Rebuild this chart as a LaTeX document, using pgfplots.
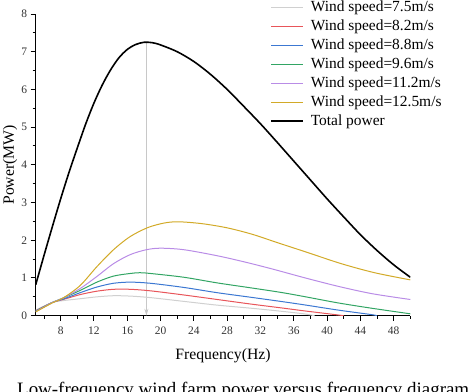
\documentclass[border=0pt]{standalone}
\usepackage{pgfplots}
\pgfplotsset{compat=1.18}
\usepackage{fontspec}
\setmainfont{Liberation Serif}
\usetikzlibrary{arrows.meta}
\definecolor{cgray}{RGB}{208,208,208}
\definecolor{cred}{RGB}{232,85,90}
\definecolor{cblue}{RGB}{60,120,210}
\definecolor{cgreen}{RGB}{50,165,100}
\definecolor{cpurple}{RGB}{185,140,230}
\definecolor{cyellow}{RGB}{210,170,40}
\definecolor{carrow}{RGB}{200,200,200}
\begin{document}
\begin{tikzpicture}
\useasboundingbox (-35.7bp,-76.3bp) rectangle (438.3bp,315.7bp);
\clip (-35.7bp,-76.3bp) rectangle (438.3bp,315.7bp);
\begin{axis}[
  at={(0,0)}, anchor=south west,
  scale only axis, width=374.6bp, height=301.7bp,
  xmin=5, xmax=50, ymin=0, ymax=8,
  axis x line*=bottom, axis y line*=left,
  axis line style={line width=1.3bp},
  tick align=outside,
  major tick length=5bp, minor tick length=3bp,
  every tick/.style={line width=1bp, black},
  xtick={8,12,...,48}, minor xtick={6,10,...,50},
  ytick={0,1,...,8}, minor ytick={0.5,1.5,...,7.5},
  /pgf/number format/assume math mode=true,
  tick label style={font=\fontsize{11.5}{13}\selectfont, color=black!80},
  xticklabel style={yshift=-3bp},
  xlabel={Frequency(Hz)}, ylabel={Power(MW)},
  label style={font=\fontsize{15.8}{18}\selectfont},
  xlabel style={at={(axis description cs:0.5,-0.133)}, anchor=center},
  ylabel style={at={(axis description cs:-0.0686,0.5)}, anchor=center},
  legend cell align=left,
  legend style={at={(axis description cs:0.6255,1.0547)}, anchor=north west,
    draw=none, fill=none, inner sep=0pt, column sep=7bp, row sep=0pt,
    font=\fontsize{15.5}{18}\selectfont,
    nodes={inner sep=0pt, text height=13.5bp, text depth=5.5bp}},
  legend image code/.code={\draw[#1] (0bp,0bp) -- (32bp,0bp);},
  every axis plot/.append style={line width=1bp},
]
\addplot[forget plot, carrow, line width=1bp, -{Stealth[length=7bp,width=4bp]}] coordinates {(18.3,7.22) (18.3,0)};
\addplot[cgray, smooth] coordinates {(5,0.15) (7,0.35) (8.3,0.40) (10.34,0.45) (12.35,0.50) (14.35,0.53) (16.36,0.52) (18.77,0.48) (22.78,0.38) (26.8,0.28) (30.8,0.2) (34.4,0.12) (37.2,0.05) (38.5,0)};
\addlegendentry{Wind speed=7.5m/s}
\addplot[cred, smooth] coordinates {(5,0.13) (7,0.35) (8.3,0.43) (10.34,0.56) (12.35,0.65) (14.35,0.70) (16.36,0.70) (18.77,0.66) (22.78,0.55) (26.8,0.43) (30.8,0.31) (34.4,0.21) (37.2,0.13) (41.3,0.02) (42,0)};
\addlegendentry{Wind speed=8.2m/s}
\addplot[cblue, smooth] coordinates {(5,0.12) (7,0.35) (8.3,0.44) (10.34,0.61) (12.35,0.76) (14.35,0.86) (16.36,0.89) (18.77,0.86) (22.78,0.75) (26.8,0.61) (30.8,0.49) (34.4,0.38) (37.2,0.29) (41.3,0.15) (45.3,0.03) (46,0)};
\addlegendentry{Wind speed=8.8m/s}
\addplot[cgreen, smooth] coordinates {(5,0.12) (7,0.35) (8.3,0.47) (10.34,0.67) (12.35,0.89) (14.35,1.05) (16.36,1.12) (17.5,1.14) (18.77,1.12) (22.78,1.02) (26.8,0.87) (30.8,0.74) (34.4,0.62) (37.2,0.51) (41.3,0.34) (45.3,0.2) (50,0.05)};
\addlegendentry{Wind speed=9.6m/s}
\addplot[cpurple, smooth] coordinates {(5,0.11) (7,0.35) (8.3,0.47) (10.34,0.72) (12.35,1.04) (14.35,1.38) (16.36,1.62) (18.3,1.75) (20,1.79) (22.8,1.75) (26.8,1.59) (30,1.43) (33.4,1.24) (37.4,1.0) (41.5,0.77) (45.5,0.58) (50,0.43)};
\addlegendentry{Wind speed=11.2m/s}
\addplot[cyellow, smooth] coordinates {(5,0.10) (7,0.34) (8.3,0.47) (10.34,0.8) (12.35,1.3) (14.35,1.75) (16.36,2.1) (18.5,2.34) (20.5,2.46) (22.2,2.49) (25,2.44) (28,2.33) (31,2.16) (34,1.94) (37.6,1.68) (41.7,1.38) (45.7,1.14) (50,0.95)};
\addlegendentry{Wind speed=12.5m/s}
\addplot[black, smooth, line width=1.6bp] coordinates {(5,0.82) (6,1.6) (7,2.36) (8,3.1) (9,3.8) (10,4.45) (11,5.08) (12,5.64) (13,6.12) (14,6.52) (15,6.84) (16,7.06) (17,7.19) (18,7.25) (19,7.24) (20,7.18) (22,7.0) (24,6.74) (26,6.4) (28,6.0) (30,5.55) (32,5.09) (34,4.6) (36,4.1) (38,3.6) (40,3.1) (42,2.62) (44,2.15) (46,1.73) (48,1.35) (50,1.02)};
\addlegendentry{Total power}
\end{axis}
\node[anchor=base west, inner sep=0pt, font=\fontsize{19}{22}\selectfont] at (-18.7bp,-79.8bp) {Low-frequency wind farm power versus frequency diagram};
\end{tikzpicture}
\end{document}
